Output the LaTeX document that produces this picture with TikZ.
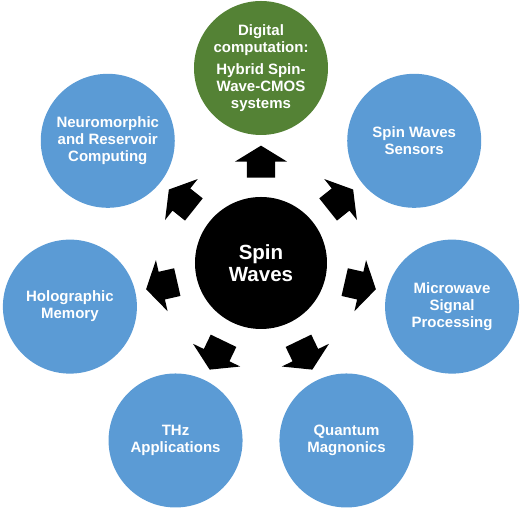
\documentclass[tikz,border=0pt]{standalone}
\usepackage{fontspec}
\setmainfont{Liberation Sans}
\usetikzlibrary{shapes.arrows}
\definecolor{swblue}{RGB}{91,155,213}
\definecolor{swgreen}{RGB}{84,130,53}

\begin{document}
\begin{tikzpicture}[x=1pt,y=1pt]
\tikzstyle{main}=[circle, minimum size = 134pt, inner sep=0pt, fill=swblue, text=white, align=center, font=\fontsize{15}{17}\selectfont\bfseries]
\tikzstyle{core}=[circle, minimum size = 132pt, inner sep=0pt, fill=black, text=white, align=center, font=\fontsize{20.5}{22}\selectfont\bfseries]
\tikzstyle{block}=[single arrow, fill=black, inner xsep=0pt, inner ysep=14pt, minimum height=32pt, single arrow head extend=12pt, single arrow head indent=0pt, single arrow tip angle=117, sloped, allow upside down]
	\useasboundingbox (-261,-247) rectangle (259,263);
	\node[core] (spin) at (0,0) {Spin\\Waves};
	\node[main, fill=swgreen] (digital) at (90:195) {Digital\\computation:\\[5pt]Hybrid Spin-\\Wave-CMOS\\systems};
	\node[main] (sensors) at (38.57:196) {Spin Waves\\Sensors};
	\node[main] (microwave) at (-12.86:196) {Microwave\\Signal\\Processing};
	\node[main] (quantum) at (-64.29:197) {Quantum\\Magnonics};
	\node[main] (thz) at (-115.71:197) {THz\\Applications};
	\node[main] (holo) at (-167.14:196) {Holographic\\Memory};
	\node[main] (neuro) at (141.43:196) {Neuromorphic\\and Reservoir\\Computing};
	\path (spin) -- node[block] (a1) {} (digital);
	\path (spin) -- node[block] (a2) {} (sensors);
	\path (spin) -- node[block] (a3) {} (microwave);
	\path (spin) -- node[block] (a4) {} (quantum);
	\path (spin) -- node[block] (a5) {} (thz);
	\path (spin) -- node[block] (a6) {} (holo);
	\path (spin) -- node[block] (a7) {} (neuro);
\end{tikzpicture}
\end{document}
